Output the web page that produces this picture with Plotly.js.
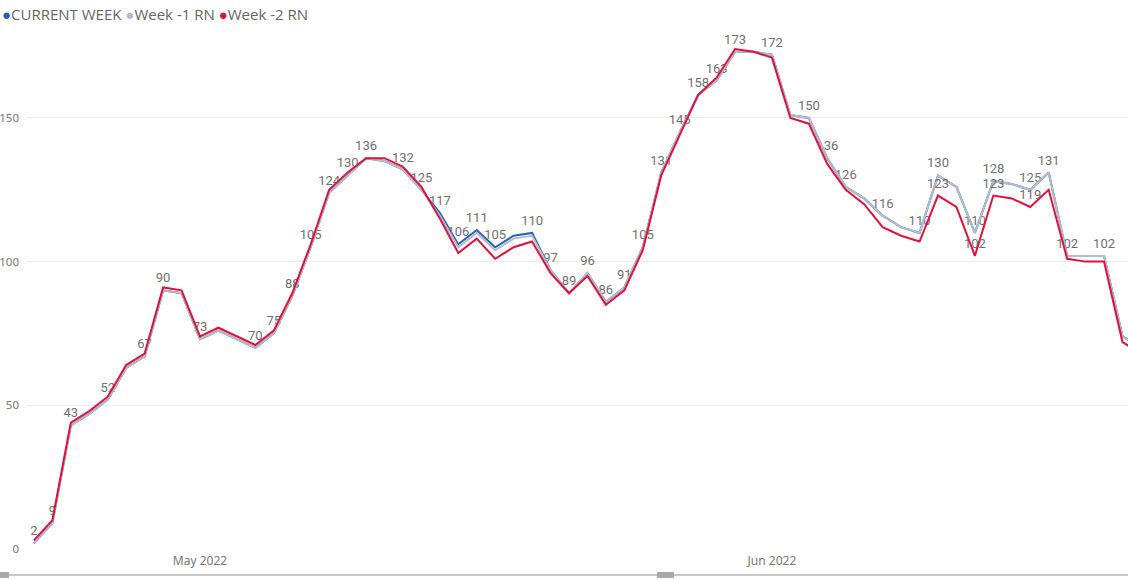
<!DOCTYPE html>
<html>
<head>
<meta charset="utf-8">
<script src="https://cdn.plot.ly/plotly-3.0.1.min.js"></script>
<style>
html,body{margin:0;padding:0;background:#fff;}
#chart{width:1128px;height:580px;}
</style>
</head>
<body>
<div id="chart"></div>
<script>
// Daily dates: 2022-04-22 .. 2022-06-21
const startDate = '2022-04-22';
const nDays = 61;

const currentWeek = [2, 9, 43, 47, 52, 63, 67, 90, 89, 73, 76, 73, 70, 75, 88, 105, 124, 130, 136, 135,
  132, 125, 117, 106, 111, 105, 109, 110, 97, 89, 96, 86, 91, 105, 131, 145, 158, 163, 173, 173,
  172, 151, 150, 136, 126, 122, 116, 112, 110, 130, 126, 110, 128, 127, 125, 131, 102, 102, 102, 74, 70];

const week1 = [2, 9, 43, 47, 52, 63, 67, 90, 89, 73, 76, 73, 70, 75, 88, 105, 124, 130, 136, 135,
  132, 125, 116, 105, 110, 104, 108, 109, 97, 89, 96, 86, 91, 105, 131, 145, 158, 163, 173, 173,
  172, 151, 150, 136, 126, 122, 116, 112, 110, 130, 126, 110, 128, 127, 125, 131, 102, 102, 102, 74, 70];

const week2 = [3, 10, 44, 48, 53, 64, 68, 91, 90, 74, 77, 74, 71, 76, 89, 106, 125, 131, 136, 136,
  133, 126, 115, 103, 108, 101, 105, 107, 96, 89, 95, 85, 90, 104, 130, 144, 158, 164, 174, 173,
  171, 150, 148, 134, 125, 120, 112, 109, 107, 123, 119, 102, 123, 122, 119, 125, 101, 100, 100, 72, 68];

// indices of points that carry a data label
const labelIdxCurrent = [0,1,2,4,6,7,9,12,13,14,15,16,17,18,20,21,22,23,24,25,27,28,29,30,31,32,33,
  34,35,36,37,38,40,42,43,44,46,48,49,51,52,54,55,56,58];
const labelIdxWeek2 = [49,51,52,54];

const seriesNames = ['CURRENT WEEK', 'Week -1 RN', 'Week -2 RN'];
const seriesColors = ['#2860B8', '#B4BCCB', '#E0123C'];

function addDays(s, d) {
  const t = new Date(s + 'T00:00:00Z');
  t.setUTCDate(t.getUTCDate() + d);
  return t.toISOString().slice(0, 10);
}
const dates = [];
for (let i = 0; i < nDays; i++) dates.push(addDays(startDate, i));

function labelsFor(vals, idx) {
  return vals.map((v, i) => idx.indexOf(i) >= 0 ? String(v) : '');
}

const labelFont = {family: 'Roboto, "DejaVu Sans Condensed", sans-serif', size: 13, color: '#707070'};
const hiddenMarker = {size: 6, opacity: 0};

const traces = [
  {x: dates, y: currentWeek, name: seriesNames[0], mode: 'lines+markers+text',
   text: labelsFor(currentWeek, labelIdxCurrent), textposition: 'top center', textfont: labelFont,
   marker: hiddenMarker,
   line: {color: seriesColors[0], width: 2}, cliponaxis: false, hoverinfo: 'skip'},
  {x: dates, y: week1, name: seriesNames[1], mode: 'lines',
   line: {color: seriesColors[1], width: 2}, hoverinfo: 'skip'},
  {x: dates, y: week2, name: seriesNames[2], mode: 'lines+markers+text',
   text: labelsFor(week2, labelIdxWeek2), textposition: 'top center', textfont: labelFont,
   marker: hiddenMarker,
   line: {color: seriesColors[2], width: 2}, cliponaxis: false, hoverinfo: 'skip'}
];

const legendText = seriesNames.map((n, i) =>
  '<span style="color:' + seriesColors[i] + '">●</span>' + n).join(' ');

// paper-coordinate helpers for the decorative scrollbar
const plotL = 26, plotW = 1102, plotT = 30, plotH = 519;
function px(x) { return (x - plotL) / plotW; }
function py(y) { return (plotT + plotH - y) / plotH; }

const layout = {
  width: 1128, height: 580,
  margin: {l: plotL, r: 0, t: plotT, b: 580 - plotT - plotH, pad: 0},
  paper_bgcolor: '#ffffff', plot_bgcolor: '#ffffff',
  showlegend: false,
  font: {family: '"Noto Sans", "Open Sans", sans-serif', color: '#777777'},
  xaxis: {
    type: 'date',
    range: ['2022-04-21 13:40', '2022-06-20 07:10'],
    dtick: 'M1', tick0: '2022-04-01', tickformat: '%b %Y',
    showgrid: false, zeroline: false, showline: false, ticks: '',
    ticklabelstandoff: 3,
    tickfont: {size: 12, color: '#777777'}, fixedrange: true
  },
  yaxis: {
    range: [0, 180.6], dtick: 50, tick0: 0,
    showgrid: true, gridcolor: '#efefef', gridwidth: 1,
    zeroline: false, showline: false, ticks: '',
    ticklabelstandoff: 6,
    tickfont: {size: 11.5, color: '#777777'}, fixedrange: true
  },
  annotations: [{
    xref: 'paper', yref: 'paper', x: px(0), y: py(14), xanchor: 'left', yanchor: 'middle',
    text: legendText, showarrow: false,
    font: {family: '"Open Sans", "Noto Sans", sans-serif', size: 15, color: '#666666'}
  }],
  shapes: [
    {type: 'line', xref: 'paper', yref: 'paper', x0: px(0), x1: px(1128), y0: py(575), y1: py(575),
     line: {color: '#c8c8c8', width: 2}},
    {type: 'rect', xref: 'paper', yref: 'paper', x0: px(0), x1: px(9), y0: py(578), y1: py(572),
     fillcolor: '#a8a8a8', line: {width: 0}},
    {type: 'rect', xref: 'paper', yref: 'paper', x0: px(657), x1: px(674), y0: py(578), y1: py(572),
     fillcolor: '#a8a8a8', line: {width: 0}}
  ]
};

Plotly.newPlot('chart', traces, layout, {displayModeBar: false, staticPlot: true});
</script>
</body>
</html>
